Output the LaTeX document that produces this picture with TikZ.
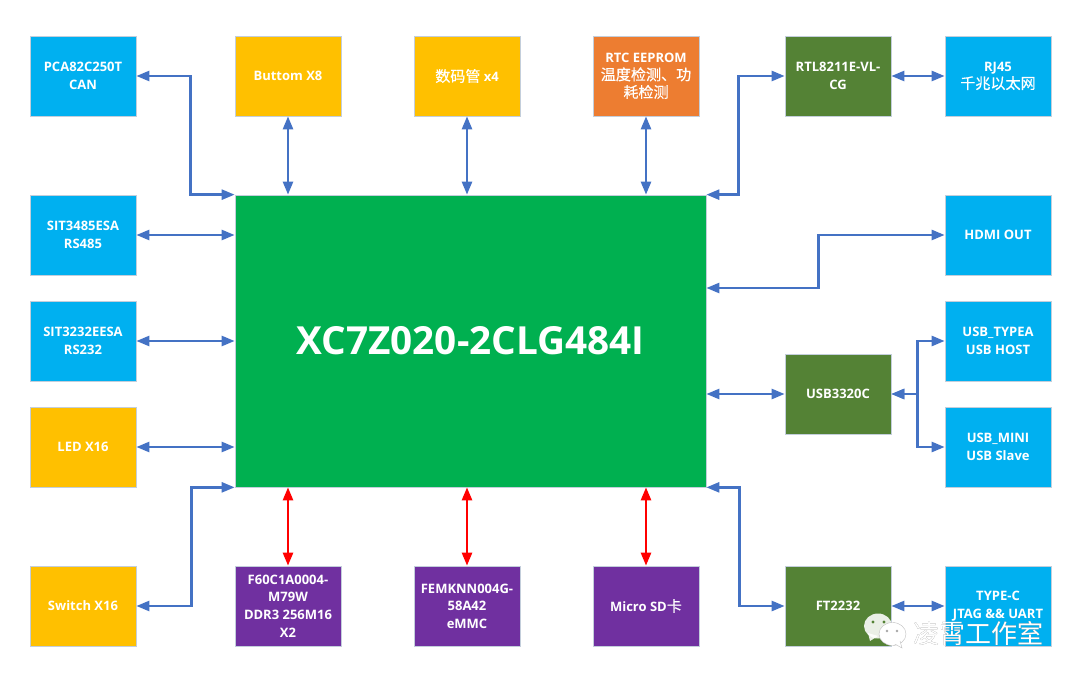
\documentclass[tikz,border=0pt]{standalone}
\usepackage{fontspec}
\usepackage{tikz}
\usetikzlibrary{arrows.meta}
\setmainfont{Open Sans}
\newfontface\cjk[Scale=1.16,FakeBold=0.5]{Noto Sans CJK SC}
\newfontfamily\markfont{Noto Sans CJK SC}
\definecolor{skyblue}{HTML}{00B0F0}
\definecolor{amber}{HTML}{FFC000}
\definecolor{burnt}{HTML}{ED7D31}
\definecolor{leaf}{HTML}{548235}
\definecolor{grape}{HTML}{7030A0}
\definecolor{chipgreen}{HTML}{00B050}
\definecolor{linkblue}{HTML}{4472C4}
\definecolor{edgegrey}{HTML}{C3CEDB}
\tikzset{
    block/.style={draw=edgegrey,line width=0.7pt,minimum width=106pt,minimum height=80pt,inner sep=1pt,
        text=white,align=center,font=\fontsize{13}{17.6}\selectfont\bfseries},
    link/.style={draw=linkblue,line width=2.5pt,{Stealth[length=13pt,width=10pt,inset=0pt]}-{Stealth[length=13pt,width=10pt,inset=0pt]}},
    redlink/.style={link,draw=red},
}
\begin{document}
\begin{tikzpicture}[x=1pt,y=-1pt]
    \useasboundingbox (0,0) rectangle (1080,679);
    % left column
    \node[block,fill=skyblue] (can) at (83,76) {PCA82C250T\\CAN};
    \node[block,fill=skyblue] (rsf) at (83,235) {SIT3485ESA\\RS485};
    \node[block,fill=skyblue] (rst) at (83,341) {SIT3232EESA\\RS232};
    \node[block,fill=amber] (led) at (83,447) {LED X16};
    \node[block,fill=amber] (swi) at (83,606) {Switch X16};
    % top row
    \node[block,fill=amber] (btn) at (288,76) {Buttom X8};
    \node[block,fill=amber] (seg) at (467,76) {{\cjk 数码管} x4};
    \node[block,fill=burnt] (rtc) at (646,76) {RTC EEPROM\\{\cjk 温度检测、功}\\{\cjk 耗检测}};
    \node[block,fill=leaf] (phy) at (838,76) {RTL8211E-VL-\\CG};
    \node[block,fill=skyblue] (rj) at (998,76) {RJ45\\{\cjk 千兆以太网}};
    % chip
    \node[draw=edgegrey,line width=0.7pt,fill=chipgreen,minimum width=471pt,minimum height=292pt,inner sep=0pt,
        text=white,font=\fontsize{38.7}{42}\selectfont\bfseries] (main) at (470.5,341) {XC7Z020-2CLG484I};
    % right column
    \node[block,fill=skyblue] (hdmi) at (998,235) {HDMI OUT};
    \node[block,fill=skyblue] (typea) at (998,341) {USB\_TYPEA\\USB HOST};
    \node[block,fill=skyblue] (mini) at (998,447) {USB\_MINI\\USB Slave};
    \node[block,fill=leaf] (ulpi) at (838,394) {USB3320C};
    % bottom row
    \node[block,fill=grape] (ddr) at (288,606) {F60C1A0004-\\M79W\\DDR3 256M16\\X2};
    \node[block,fill=grape] (emmc) at (467,606) {FEMKNN004G-\\58A42\\eMMC};
    \node[block,fill=grape] (sd) at (646,606) {Micro SD{\cjk 卡}};
    \node[block,fill=leaf] (ft) at (838,606) {FT2232};
    \node[block,fill=skyblue] (typec) at (998,606) {TYPE-C\\JTAG \&\& UART};
    % blue links
    \draw[link] (can.east) -- ++(54,0) |- (main.north west);
    \draw[link] (rsf.east) -- (rsf.east -| main.west);
    \draw[link] (rst.east) -- (rst.east -| main.west);
    \draw[link] (led.east) -- (led.east -| main.west);
    \draw[link] (swi.east) -- ++(55,0) |- (main.south west);
    \draw[link] (btn.south) -- (btn.south |- main.north);
    \draw[link] (seg.south) -- (seg.south |- main.north);
    \draw[link] (rtc.south) -- (rtc.south |- main.north);
    \draw[link] (phy.west) -- ++(-46,0) |- (main.north east);
    \draw[link] (phy.east) -- (rj.west);
    \draw[link] (hdmi.west) -- ++(-126,0) |- ([yshift=53pt]main.east);
    \draw[link] (ulpi.west) -- (ulpi.west -| main.east);
    \draw[link] (ulpi.east) -- ++(26,0) |- (typea.west);
    \draw[link] (ulpi.east) -- ++(26,0) |- (mini.west);
    \draw[link] (ft.west) -- ++(-45,0) |- (main.south east);
    \draw[link] (ft.east) -- (typec.west);
    % red links
    \draw[redlink] (ddr.north) -- (ddr.north |- main.south);
    \draw[redlink] (emmc.north) -- (emmc.north |- main.south);
    \draw[redlink] (sd.north) -- (sd.north |- main.south);
    % watermark
    \fill[white,opacity=0.88] (878,626) ellipse (14pt and 12.5pt);
    \fill[white,opacity=0.88] (868,633) -- (870,641) -- (878,636) -- cycle;
    \fill[leaf] (873,622) circle (1.7pt) (884,622) circle (1.7pt);
    \filldraw[fill=white,draw=black!25,line width=0.4pt] (892.5,634) ellipse (13.5pt and 11.5pt);
    \filldraw[fill=white,draw=black!25,line width=0.4pt] (893,643) -- (902,648) -- (900,641);
    \fill[white] (892,640) rectangle (899,644);
    \fill[black!35] (887,631) circle (1.3pt) (897,631) circle (1.3pt);
    \node[text=black!55,font=\markfont\fontsize{26}{28}\selectfont,inner sep=0pt] (markshadow) at (978.8,633.8) {凌霄工作室};
    \node[text=white,font=\markfont\fontsize{26}{28}\selectfont,inner sep=0pt] (mark) at (978,633) {凌霄工作室};
\end{tikzpicture}
\end{document}
